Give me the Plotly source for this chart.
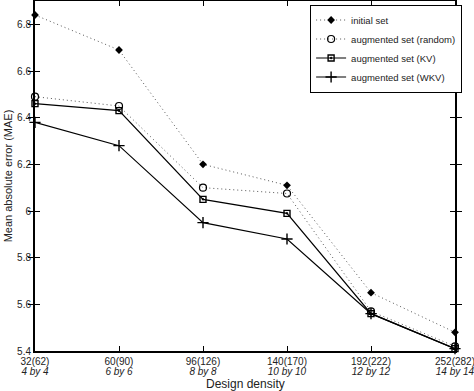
import plotly.graph_objects as go

categories = ["32(62)", "60(90)", "96(126)", "140(170)", "192(222)", "252(282)"]
subtitles = ["4 by 4", "6 by 6", "8 by 8", "10 by 10", "12 by 12", "14 by 14"]
initial_set = [6.84, 6.69, 6.20, 6.11, 5.65, 5.48]
aug_random = [6.49, 6.45, 6.10, 6.075, 5.57, 5.42]
aug_kv = [6.46, 6.43, 6.05, 5.99, 5.56, 5.41]
aug_wkv = [6.38, 6.28, 5.95, 5.88, 5.56, 5.41]
y_ticks = [5.4, 5.6, 5.8, 6.0, 6.2, 6.4, 6.6, 6.8]
y_ticktext = ["5.4", "5.6", "5.8", "6", "6.2", "6.4", "6.6", "6.8"]

xs = list(range(len(categories)))
font = "Liberation Sans, Arial, sans-serif"

fig = go.Figure()
fig.add_trace(go.Scatter(x=xs, y=initial_set, name="initial set", mode="lines+markers",
                         xaxis="x2",
                         line=dict(color="#555", width=1, dash="1px,3px"),
                         marker=dict(symbol="diamond", size=6, color="black"), cliponaxis=False))
fig.add_trace(go.Scatter(x=xs, y=aug_random, name="augmented set (random)", mode="lines+markers",
                         line=dict(color="#555", width=1, dash="1px,3px"),
                         marker=dict(symbol="circle-open", size=7, color="black", line=dict(width=1.2)), cliponaxis=False))
fig.add_trace(go.Scatter(x=xs, y=aug_kv, name="augmented set (KV)", mode="lines+markers",
                         line=dict(color="black", width=1.2),
                         marker=dict(symbol="square-open-dot", size=6, color="black", line=dict(width=1.4)), cliponaxis=False))
fig.add_trace(go.Scatter(x=xs, y=aug_wkv, name="augmented set (WKV)", mode="lines+markers",
                         line=dict(color="black", width=1.2),
                         marker=dict(symbol="cross-thin", size=8, color="black", line=dict(width=1.4, color="black")), cliponaxis=False))

fig.update_layout(
    width=474, height=391,
    margin=dict(l=35, r=19, t=1, b=40),
    paper_bgcolor="white", plot_bgcolor="white",
    font=dict(family=font, size=10, color="#222"),
    showlegend=True,
    legend=dict(x=0.655, y=0.99, xanchor="left", yanchor="top",
                bordercolor="black", borderwidth=1, bgcolor="white",
                font=dict(size=9.5), tracegroupgap=0, itemwidth=30),
    annotations=[dict(text="Design density", xref="paper", yref="paper",
                      x=0.5, y=-0.093, xanchor="center", yanchor="middle",
                      showarrow=False, font=dict(size=12, family=font, color="#222"))],
    xaxis=dict(
        range=[0, 5], tickvals=xs, ticktext=categories, automargin=False, ticklabeloverflow="allow",
        showline=True, linecolor="black", linewidth=2, mirror="allticks",
        ticks="inside", ticklen=5, tickcolor="black", showgrid=False, zeroline=False,
        tickfont=dict(size=10, family=font),
    ),
    xaxis2=dict(
        overlaying="x", anchor="y", side="bottom", range=[0, 5], tickvals=xs,
        ticktext=[f"<i>{s}</i>" for s in subtitles], automargin=False,
        ticklabeloverflow="allow", showline=False,
        ticks="outside", ticklen=11, tickcolor="rgba(0,0,0,0)",
        showgrid=False, zeroline=False,
        tickfont=dict(size=10, family=font, color="#222"),
    ),
    yaxis=dict(
        range=[5.4, 6.9], tickvals=y_ticks, ticktext=y_ticktext, automargin=False,
        showline=True, linecolor="black", linewidth=2, mirror="allticks",
        ticks="inside", ticklen=5, tickcolor="black", showgrid=False, zeroline=False,
        tickfont=dict(size=10, family=font),
        title=dict(text="Mean absolute error (MAE)", font=dict(size=11), standoff=2),
    ),
)

fig.write_html("out.html", config={"displayModeBar": False},
               post_script="document.body.style.margin='0';")
